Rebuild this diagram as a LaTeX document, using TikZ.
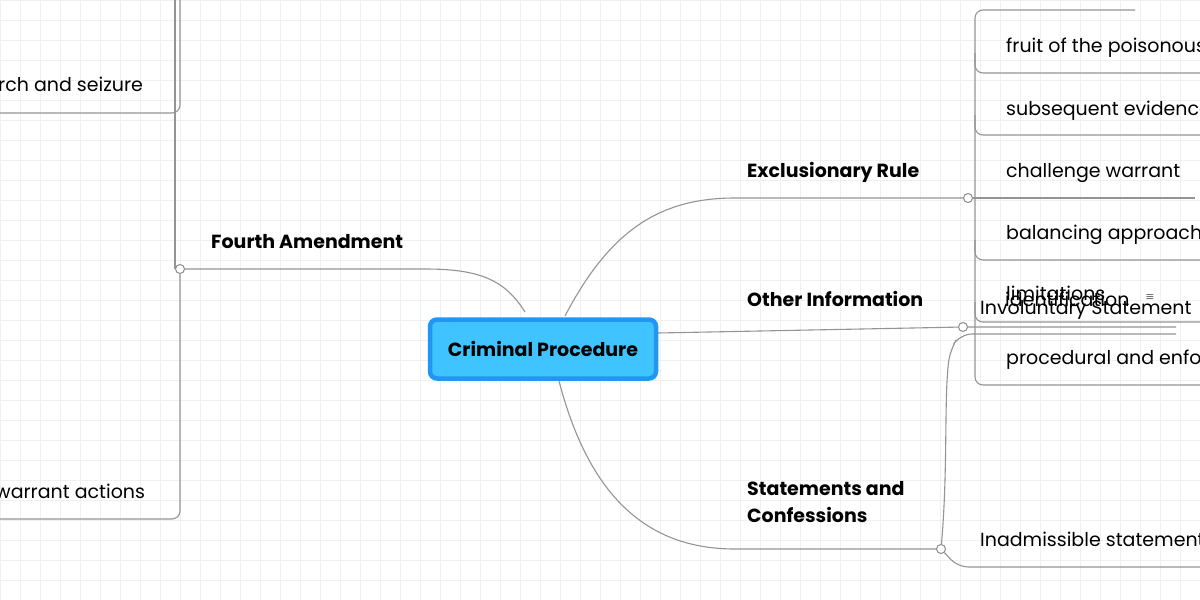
\documentclass[tikz,border=0pt]{standalone}
\usepackage{fontspec}
\setmainfont{Poppins}
\newfontfamily\symf{DejaVu Sans}
\definecolor{cfill}{HTML}{40C4FF}
\definecolor{cbord}{HTML}{2196F3}
\begin{document}
\begin{tikzpicture}[x=1pt,y=-1pt,
  ln/.style={draw=black!42,line width=1.1pt},
  dot/.style={circle,draw=black!45,fill=white,line width=1pt,inner sep=0pt,minimum size=9pt},
  lbl/.style={anchor=base west,inner sep=0pt,font=\fontsize{19}{22}\selectfont},
  blbl/.style={lbl,font=\fontsize{19}{27}\selectfont\bfseries}]
\fill[white] (0,0) rectangle (1200,600);
\useasboundingbox (0,0) rectangle (1200,600);
\foreach \i in {0,20,...,1200} \draw[black!6,line width=0.6pt] (\i,0) -- (\i,600);
\foreach \i in {0,20,...,600} \draw[black!6,line width=0.6pt] (0,\i) -- (1200,\i);
\clip (0,0) rectangle (1200,600);
% centre
\node[draw=cbord,line width=4.5pt,fill=cfill,rounded corners=7pt,minimum width=226pt,minimum height=59pt,font=\fontsize{19}{22}\selectfont\bfseries] (c) at (543,349) {Criminal Procedure};
% fourth amendment
\node[dot] (f) at (180,269) {};
\node[blbl] (ft) at (211,248) {Fourth Amendment};
\draw[ln] (f) -- (425,269) .. controls (480,269) and (505,280) .. (525,312);
\draw[ln] (175,0) -- (175,269);
\draw[ln,rounded corners=8pt] (180,0) -- (180,113) -- (0,113);
\draw[ln,rounded corners=8pt] (f) -- (180,519) -- (0,519);
\node[lbl] (a1) at (-2,91) {rch and seizure};
\node[lbl] (a2) at (-5,498) {warrant actions};
% exclusionary rule
\node[dot] (e) at (968,198) {};
\node[blbl] (et) at (747,177) {Exclusionary Rule};
\draw[ln] (565,316) .. controls (610,230) and (660,198) .. (735,198) -- (e);
\draw[ln] (e) -- (1195,198);
\draw[ln,rounded corners=8pt] (1135,10) -- (975,10) -- (975,385) -- (1200,385);
\foreach \y in {73,135,260,322}{
  \draw[ln,rounded corners=8pt] (975,\y-20) -- (975,\y) -- (1200,\y);}
\node[lbl] at (1006,52) {fruit of the poisonous};
\node[lbl] at (1006,115) {subsequent evidence};
\node[lbl] at (1006,177) {challenge warrant};
\node[lbl] at (1006,239) {balancing approach};
\node[lbl] at (1006,300) {limitations};
\node[lbl] at (1006,364) {procedural and enforcement};
% other information
\node[dot] (o) at (963,327) {};
\node[blbl] (ot) at (747,306) {Other Information};
\draw[ln] (658,333) -- (o) -- (1176,327);
\node[lbl] at (1005,306) {identification};
\node[font=\symf\fontsize{11}{11}\selectfont,text=black!60] at (1150,298) {≡};
\node[lbl] at (980,314) {Involuntary Statement};
% statements
\node[dot] (s) at (941,549) {};
\node[blbl,align=left,anchor=north west] (st) at (747,481) {Statements and\\Confessions};
\draw[ln] (559,381) .. controls (590,500) and (650,549) .. (735,549) -- (s);
\draw[ln,rounded corners=12pt] (s) .. controls (948,470) and (944,400) .. (950,350) -- (960,334) -- (1176,334);
\draw[ln,rounded corners=10pt] (s) -- (958,567) -- (1200,567);
\node[lbl] at (980,546) {Inadmissible statements};
\end{tikzpicture}
\end{document}
